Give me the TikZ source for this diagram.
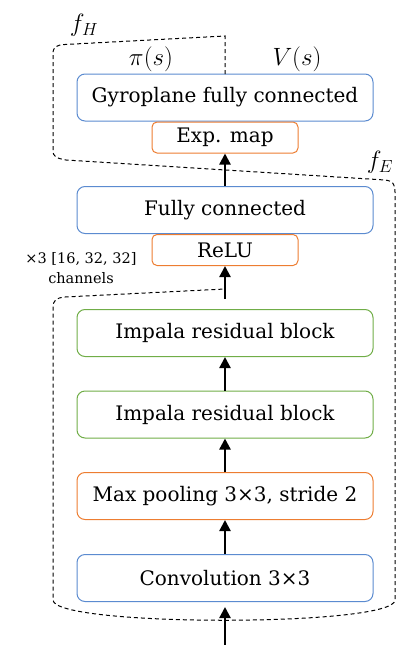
\RequirePackage{fix-cm}
\documentclass[tikz,border=0pt]{standalone}
\usepackage{fontspec}
\setmainfont{DejaVu Serif}
\usetikzlibrary{arrows.meta}
\definecolor{cblue}{HTML}{5B8BD0}
\definecolor{corange}{HTML}{ED7D31}
\definecolor{cgreen}{HTML}{70AD47}
\tikzset{
  bigbox/.style={draw, line width=1pt, rounded corners=8pt, minimum width=296pt, minimum height=47pt, inner sep=0pt, font=\fontsize{20}{22}\selectfont},
  smallbox/.style={draw=corange, line width=1pt, rounded corners=5pt, minimum width=146pt, minimum height=31pt, inner sep=0pt, font=\fontsize{20}{22}\selectfont},
  mathlabel/.style={inner sep=0pt, font=\fontsize{25}{27}\selectfont},
  flow/.style={line width=2.3pt, -{Triangle[width=11pt,length=11pt]}},
  region/.style={line width=1pt, dash pattern=on 4pt off 3pt, black},
}
\begin{document}
\begin{tikzpicture}[x=1pt,y=-1pt]
\useasboundingbox (0,0) rectangle (418,645);
% boxes
\node[bigbox, draw=cblue] (gyro) at (225,97.5) {Gyroplane fully connected};
\node[smallbox] (exp) at (225,137.5) {Exp. map};
\node[bigbox, draw=cblue] (fc) at (225,210) {Fully connected};
\node[smallbox] (relu) at (225,250) {ReLU};
\node[bigbox, draw=cgreen] (imp1) at (225,333) {Impala residual block};
\node[bigbox, draw=cgreen] (imp2) at (225,414.5) {Impala residual block};
\node[bigbox, draw=corange] (pool) at (225,496) {Max pooling 3×3, stride 2};
\node[bigbox, draw=cblue] (conv) at (225,578) {Convolution 3×3};
% labels
\node[mathlabel] (pi) at (151,59) {$\pi(s)$};
\node[mathlabel] (vs) at (297,59) {$V(s)$};
\node[mathlabel] (fh) at (84,25) {$f_H$};
\node[mathlabel] (fe) at (380,162) {$f_E$};
\node[align=center, font=\fontsize{14.5}{20}\selectfont, inner sep=0pt] (rep) at (81,268) {×3 [16, 32, 32]\\channels};
% coordinates
\coordinate (rtail) at (225,299);
\coordinate (in) at (225,645);
\coordinate (intip) at (225,607);
% dashed regions
\draw[region] (225,74) -- (225,36) -- (65,44.5) .. controls (56,45) and (53,47) .. (53,54)
  -- (53,150) .. controls (53,157) and (56,158) .. (66,160)
  -- (385,180) .. controls (393,181) and (395,184) .. (395,192)
  -- (395,600) .. controls (395,627) and (53,627) .. (53,600)
  -- (53,308) .. controls (53,300) and (56,298) .. (65,297) -- (rtail |- 0,289);
% arrows
\draw[flow] (fc.north) -- (exp.south);
\draw[flow] (rtail) -- (relu.south);
\draw[flow] (imp2.north) -- (imp1.south);
\draw[flow] (pool.north) -- (imp2.south);
\draw[flow] (conv.north) -- (pool.south);
\draw[flow] (in) -- (intip);
\end{tikzpicture}
\end{document}
